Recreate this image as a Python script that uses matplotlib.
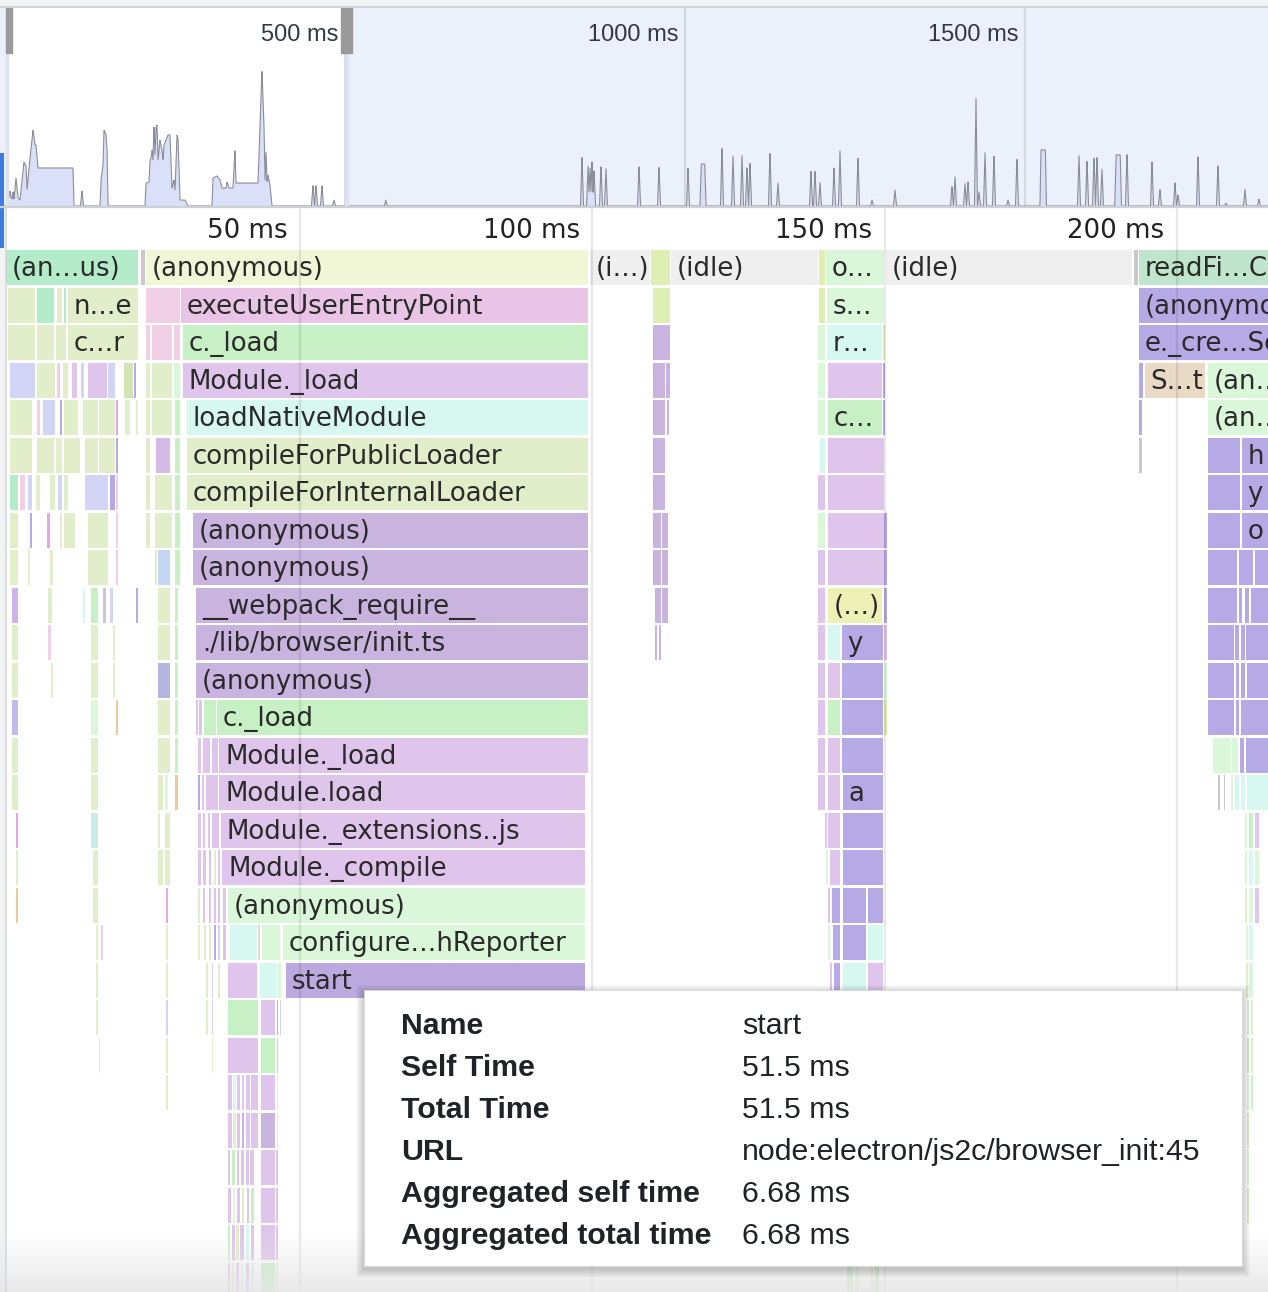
import numpy as np
import matplotlib.pyplot as plt
from matplotlib.patches import Rectangle

W, H = 1268, 1292

# ---- overview (CPU activity) data: time in ms, height in % ----
burst_t = [-8, 2.5, 2.9, 4.4, 5.9, 7.4, 8.8, 10.3, 11.8, 13.2, 16.2, 19.1, 22.1, 27.9, 30.9, 32.4,
           35.3, 38.2, 41.2, 44.1, 45.6, 48.5, 100.0, 101.5,
           139.7, 141.2, 144.1, 145.6, 148.5, 150.0, 151.5,
           205.9, 207.4, 211.8, 213.2, 214.7, 216.2, 217.6, 219.1, 220.6, 222.1, 223.5, 225.0,
           226.5, 227.9, 229.4, 230.9, 232.4, 233.8, 239.7, 242.6, 245.6, 248.5, 250.0, 252.9,
           254.4, 257.4, 264.7, 269.1,
           304.4, 305.9, 311.8, 316.2, 319.1, 325.0, 326.5, 329.4, 335.3, 338.2, 339.7, 372.1,
           375.0, 377.9, 380.9, 382.4, 383.8, 385.3, 386.8, 389.7, 392.6,
           1022.0, 1024.0, 1029.0, 1031.0, 1522.0, 1523.5, 1530.0, 1531.5,
           1632.0, 1634.0, 1640.0, 1642.0, 1860]
burst_h = [0, 0, 11.6, 8.1, 4.5, 7.6, 4.5, 3.5, 7.1, 3.5, 14.1, 4.5, 3.0, 22.2, 20.2, 8.1,
           19.2, 28.3, 38.4, 30.8, 30.8, 19.2, 19.2, 0,
           0, 13.1, 20.7, 38.4, 35.9, 28.3, 0,
           0, 11.6, 12.1, 23.2, 24.2, 28.3, 23.2, 40.9, 25.8, 39.4, 40.9, 23.2,
           28.3, 33.3, 30.8, 28.3, 23.2, 30.8, 35.9, 35.9, 9.1, 13.1, 8.1, 35.9,
           34.3, 3.0, 3.0, 0,
           0, 14.1, 15.2, 13.1, 9.1, 9.1, 12.1, 9.1, 9.1, 28.3, 11.6, 11.6,
           40.9, 68.7, 40.9, 13.1, 27.3, 12.1, 15.7, 10.6, 0,
           0, 21.2, 21.2, 0, 0, 28.3, 28.3, 0,
           0, 25.8, 25.8, 0, 0]
spike_t = [113.2, 452.9, 457.4, 466.2, 483.8, 560.0,
           848.5, 857.4, 860.3, 863.2, 866.2, 876.5, 883.8, 932.4, 961.8, 1004.4,
           1054.4, 1070.6, 1083.8, 1091.2, 1095.6, 1125.0, 1136.8, 1185.3, 1191.2, 1198.5,
           1219.1, 1227.9, 1254.4, 1275.0, 1308.8, 1392.6, 1397.1, 1411.8, 1416.2, 1427.9,
           1432.4, 1441.2, 1454.4, 1475.0, 1488.2, 1579.4, 1591.2, 1601.5, 1605.9, 1613.2,
           1650.0, 1686.8, 1698.5, 1720.6, 1725.0, 1754.4, 1783.8, 1795.6, 1823.5, 1844.1]
spike_h = [7.6, 10.6, 10.6, 10.6, 3.0, 3.0,
           25.3, 21.2, 19.2, 23.2, 18.2, 20.7, 19.2, 20.2, 20.2, 19.2,
           30.3, 25.3, 26.3, 20.2, 22.2, 27.8, 11.6, 17.7, 18.2, 12.1,
           19.2, 28.3, 25.3, 3.0, 8.1, 10.1, 15.2, 11.6, 12.6, 55.6,
           7.1, 27.3, 26.3, 3.0, 24.7, 26.3, 23.2, 25.3, 25.3, 19.2,
           27.3, 23.2, 8.6, 12.1, 5.6, 25.8, 21.2, 1.5, 8.6, 3.5]
overview_ticks = [500, 1000, 1500, 2000]
window_ms = [4.4, 500.0]

# ---- flame chart data: (row, start ms, end ms, colour, label) ----
flame_ticks = [50, 100, 150, 200]

palette = {
    'mint': '#b4ecc9', 'cream': '#f1f6d6', 'idle': '#efefef', 'grey': '#c9c9c9',
    'lime': '#dfeeb2', 'pink': '#e9c4e7', 'pinkl': '#f1d0e7', 'green': '#c7f1c4',
    'lav': '#dfc5eb', 'lav2': '#d6bbe8', 'cyan': '#d7f7f1', 'cyan2': '#cdeaea',
    'olive': '#e2edc9', 'olive2': '#d3e3b3', 'purple': '#c9b3df', 'purple2': '#cfb2e8',
    'lgreen': '#dbf7da', 'start': '#bca9df', 'yellow': '#eef1b5', 'blue': '#b6aae6',
    'sea': '#bfe6cd', 'beige': '#e9dac6', 'peri': '#d2d5f5', 'sky': '#c3d6f3',
    'violet': '#c4b8ee', 'violet2': '#b5b5e1', 'orange': '#f2c89a', 'magenta': '#e9a6e6',
}

main_blocks = [
    (0, -0.3, 22.3, 'mint', '(an…us)'), (0, 22.8, 23.5, 'grey', ''),
    (0, 23.7, 99.3, 'cream', '(anonymous)'),
    (1, 29.6, 99.3, 'pink', 'executeUserEntryPoint'),
    (2, 30.0, 99.3, 'green', 'c._load'),
    (3, 30.0, 99.3, 'lav', 'Module._load'),
    (4, 30.6, 99.3, 'cyan', 'loadNativeModule'),
    (5, 30.6, 99.3, 'olive', 'compileForPublicLoader'),
    (6, 30.6, 99.3, 'olive', 'compileForInternalLoader'),
    (7, 31.7, 99.3, 'purple', '(anonymous)'),
    (8, 31.7, 99.3, 'purple', '(anonymous)'),
    (9, 32.2, 99.3, 'purple', '__webpack_require__'),
    (10, 32.2, 99.3, 'purple', './lib/browser/init.ts'),
    (11, 32.2, 99.3, 'purple', '(anonymous)'),
    (12, 35.8, 99.3, 'green', 'c._load'),
    (13, 36.2, 99.3, 'lav', 'Module._load'),
    (14, 36.2, 98.8, 'lav', 'Module.load'),
    (15, 36.5, 98.8, 'lav', 'Module._extensions..js'),
    (16, 36.7, 98.8, 'lav', 'Module._compile'),
    (17, 37.7, 98.8, 'lgreen', '(anonymous)'),
    (18, 47.1, 98.8, 'lgreen', 'configure…hReporter'),
    (19, 47.6, 98.8, 'start', 'start'),
]

left_blocks = [
    (1, 0.1, 4.7, 'olive'), (1, 5.0, 7.9, 'mint'), (1, 8.4, 9.3, 'olive'), (1, 9.6, 10.0, 'mint'),
    (1, 10.3, 22.3, 'olive', 'n…e'),
    (2, 0.1, 4.7, 'olive'), (2, 5.0, 7.9, 'olive'), (2, 8.3, 10.0, 'olive'), (2, 10.3, 22.3, 'olive', 'c…r'),
    (3, 0.4, 4.7, 'peri'), (3, 5.0, 8.1, 'olive'), (3, 8.4, 8.9, 'pinkl'), (3, 9.5, 10.3, 'olive'),
    (3, 11.0, 11.9, 'lav'), (3, 12.5, 13.1, 'peri'), (3, 13.7, 17.0, 'lav'), (3, 17.2, 18.4, 'peri'),
    (3, 19.9, 21.4, 'olive2'), (3, 21.6, 21.9, 'blue'),
    (4, 0.4, 4.2, 'olive'), (4, 5.0, 5.5, 'pinkl'), (4, 6.0, 8.1, 'peri'), (4, 8.9, 9.3, 'blue'),
    (4, 9.6, 12.0, 'olive'), (4, 12.9, 15.4, 'olive'), (4, 15.6, 18.4, 'olive'), (4, 18.5, 18.9, 'magenta'),
    (4, 20.1, 20.9, 'olive'), (4, 21.9, 22.3, 'olive'),
    (5, 0.4, 4.2, 'olive'), (5, 5.0, 7.9, 'olive'), (5, 8.3, 9.3, 'olive'), (5, 9.6, 12.4, 'olive'),
    (5, 13.2, 15.4, 'olive'), (5, 15.6, 18.4, 'olive'), (5, 18.5, 18.9, 'blue'),
    (6, 0.4, 1.8, 'mint'), (6, 2.1, 3.0, 'pinkl'), (6, 3.5, 4.2, 'peri'), (6, 4.8, 5.5, 'olive'),
    (6, 7.2, 8.1, 'olive'), (6, 8.6, 9.3, 'peri'), (6, 9.6, 10.3, 'olive'), (6, 13.2, 17.2, 'peri'),
    (6, 17.5, 18.4, 'blue'), (6, 18.5, 18.9, 'pinkl'),
    (7, 0.4, 1.8, 'olive'), (7, 3.8, 4.2, 'blue'), (7, 6.7, 7.2, 'magenta'), (7, 8.9, 9.3, 'olive'),
    (7, 9.6, 11.5, 'olive'), (7, 13.7, 17.2, 'olive'), (7, 18.5, 18.9, 'pinkl'),
    (8, 0.4, 1.8, 'olive'), (8, 3.5, 3.8, 'olive'), (8, 7.2, 7.7, 'olive'), (8, 13.7, 17.2, 'olive'),
    (8, 18.5, 18.9, 'pinkl'),
    (9, 0.7, 1.8, 'purple2'), (9, 6.9, 7.6, 'olive'), (9, 12.9, 13.2, 'cyan'), (9, 14.3, 15.4, 'green'),
    (9, 16.3, 16.8, 'grey'), (9, 17.5, 18.0, 'peri'), (9, 21.9, 22.3, 'blue'),
    (10, 0.7, 1.8, 'olive'), (10, 6.9, 7.4, 'pinkl'), (10, 14.3, 15.4, 'olive'), (10, 18.0, 18.4, 'olive'),
    (11, 0.7, 1.8, 'olive'), (11, 7.4, 7.7, 'olive'), (11, 14.3, 15.4, 'olive'), (11, 18.0, 18.4, 'olive'),
    (12, 0.7, 1.8, 'violet'), (12, 14.3, 15.4, 'lgreen'), (12, 18.5, 18.9, 'orange'),
    (13, 0.7, 1.8, 'olive'), (13, 14.3, 15.4, 'olive'),
    (14, 0.7, 1.8, 'olive'), (14, 14.3, 15.4, 'olive'),
    (15, 1.4, 1.8, 'magenta'), (15, 14.3, 15.4, 'cyan2'),
    (16, 1.4, 1.8, 'olive'), (16, 14.6, 15.4, 'olive'),
    (17, 1.4, 1.8, 'orange'), (17, 14.6, 15.4, 'olive'),
    (18, 15.1, 15.4, 'olive'), (18, 16.0, 16.3, 'pinkl'),
    (19, 15.1, 15.4, 'olive'), (20, 15.1, 15.4, 'olive'), (21, 15.6, 15.8, 'olive'),
]

second_blocks = [
    (1, 23.7, 29.4, 'pinkl'),
    (2, 23.7, 24.3, 'pinkl'), (2, 24.7, 28.1, 'pinkl'), (2, 28.4, 29.5, 'pinkl'),
    (3, 23.7, 24.3, 'olive'), (3, 24.7, 28.1, 'olive'), (3, 28.4, 29.5, 'lgreen'),
    (4, 23.7, 24.3, 'olive'), (4, 24.7, 28.1, 'olive'), (4, 28.6, 29.5, 'green'),
    (5, 23.7, 24.3, 'olive'), (5, 25.4, 27.8, 'lav2'), (5, 28.6, 29.5, 'green'),
    (6, 23.7, 24.3, 'olive'), (6, 25.2, 28.1, 'olive'), (6, 28.6, 29.5, 'green'),
    (7, 23.7, 24.3, 'olive'), (7, 25.2, 28.1, 'olive'), (7, 28.6, 29.5, 'green'),
    (8, 25.2, 25.5, 'olive'), (8, 25.7, 27.8, 'sky'), (8, 28.6, 29.5, 'green'),
    (9, 25.7, 27.8, 'olive'), (9, 28.6, 29.1, 'green'),
    (10, 25.7, 27.8, 'olive'), (10, 28.6, 29.1, 'green'),
    (11, 25.7, 27.8, 'violet2'), (11, 28.6, 29.1, 'green'),
    (12, 25.7, 27.8, 'olive'), (12, 28.6, 29.1, 'green'),
    (13, 25.7, 27.8, 'olive'), (13, 28.6, 29.1, 'green'),
    (14, 25.7, 26.6, 'olive'), (14, 26.9, 27.4, 'lgreen'), (14, 28.6, 29.1, 'orange'),
    (15, 25.7, 26.0, 'olive'), (15, 26.9, 27.8, 'olive'),
    (16, 25.7, 26.6, 'olive'), (16, 26.9, 27.8, 'olive'),
    (17, 27.1, 27.4, 'magenta'), (18, 27.1, 27.4, 'olive'), (19, 27.1, 27.4, 'olive'),
    (20, 27.1, 27.4, 'peri'), (21, 27.1, 27.4, 'olive'), (22, 27.1, 27.4, 'olive'),
    (12, 32.2, 32.5, 'lav'), (12, 32.8, 33.2, 'lav'), (12, 33.6, 35.6, 'green'),
    (13, 32.6, 33.0, 'lav'), (13, 33.4, 34.6, 'lav'), (13, 35.0, 35.9, 'lav'),
    (14, 32.6, 32.9, 'blue'), (14, 33.2, 33.6, 'lav'), (14, 34.0, 35.9, 'lav'),
    (15, 32.6, 33.0, 'lav'), (15, 33.4, 33.8, 'lav'), (15, 34.2, 34.6, 'lav'), (15, 35.0, 36.2, 'lav'),
    (16, 32.6, 33.0, 'lav'), (16, 33.4, 34.0, 'lav'), (16, 34.4, 34.8, 'lav'), (16, 35.3, 35.6, 'olive'),
    (16, 36.0, 36.4, 'lav'),
    (17, 32.6, 32.9, 'olive'), (17, 33.4, 33.7, 'lav'), (17, 34.4, 34.7, 'lav'), (17, 35.3, 35.6, 'lav'),
    (17, 36.0, 36.4, 'lav'), (17, 36.8, 37.4, 'lav'),
    (18, 32.6, 32.9, 'olive'), (18, 33.6, 33.9, 'olive'), (18, 34.4, 34.7, 'olive'), (18, 35.3, 35.6, 'blue'),
    (18, 36.0, 36.3, 'peri'), (18, 36.8, 37.4, 'lav'),
    (18, 38.0, 42.6, 'cyan'), (18, 42.9, 43.2, 'beige'), (18, 43.5, 46.6, 'lgreen'),
    (19, 34.0, 34.3, 'olive'), (19, 34.9, 35.2, 'peri'), (19, 36.0, 36.3, 'olive'),
    (19, 37.7, 42.6, 'lav'), (19, 43.2, 46.1, 'cyan'), (19, 46.3, 46.7, 'lgreen'),
    (20, 34.0, 34.3, 'olive'), (20, 34.9, 35.2, 'peri'),
    (20, 37.7, 42.8, 'green'), (20, 43.3, 45.7, 'lav'), (20, 46.0, 46.3, 'blue'), (20, 46.5, 46.8, 'peri'),
    (21, 34.9, 35.2, 'olive'),
    (21, 37.7, 42.8, 'lav'), (21, 43.3, 45.7, 'green'), (21, 46.0, 46.3, 'lav'),
    (22, 37.7, 38.3, 'lav'), (22, 38.6, 39.0, 'cyan'), (22, 39.2, 39.8, 'lav'), (22, 40.0, 40.4, 'lav'),
    (22, 40.7, 41.4, 'lav'), (22, 41.7, 42.8, 'lav'), (22, 43.3, 45.7, 'lav'), (22, 46.0, 46.3, 'lgreen'),
    (23, 37.7, 38.3, 'lav'), (23, 38.6, 39.0, 'olive'), (23, 39.2, 39.8, 'lav'), (23, 40.0, 40.4, 'purple'),
    (23, 40.7, 41.4, 'lav'), (23, 41.7, 42.8, 'lav'), (23, 43.3, 45.7, 'purple'), (23, 46.0, 46.3, 'olive'),
    (24, 37.7, 38.1, 'lav'), (24, 38.4, 38.9, 'green'), (24, 39.2, 39.6, 'lav'), (24, 39.9, 40.5, 'lav'),
    (24, 40.8, 41.2, 'lav'), (24, 41.5, 42.2, 'lav'), (24, 43.3, 45.7, 'lav'), (24, 45.9, 46.2, 'lav'),
    (25, 37.7, 38.2, 'lav'), (25, 38.5, 38.8, 'lgreen'), (25, 39.2, 39.7, 'lav'), (25, 40.0, 40.5, 'olive'),
    (25, 40.9, 41.3, 'lav'), (25, 41.6, 42.2, 'green'), (25, 43.3, 45.7, 'lav'), (25, 45.9, 46.2, 'lav'),
    (26, 37.7, 38.0, 'green'), (26, 38.3, 38.8, 'lav'), (26, 39.1, 39.5, 'olive'), (26, 39.8, 40.4, 'lav'),
    (26, 40.8, 41.2, 'cyan'), (26, 41.6, 42.2, 'lav'), (26, 43.3, 45.7, 'lav'), (26, 45.9, 46.2, 'lav'),
    (27, 37.7, 38.0, 'lav'), (27, 38.3, 38.7, 'olive'), (27, 39.1, 39.5, 'lav'), (27, 39.9, 40.3, 'cyan'),
    (27, 40.7, 41.2, 'lav'), (27, 41.6, 42.2, 'lgreen'), (27, 43.3, 45.7, 'green'), (27, 45.9, 46.2, 'olive'),
]

mid_blocks = [
    (0, 99.6, 109.9, 'idle', '(i…)'), (0, 110.0, 113.3, 'lime'), (0, 113.5, 138.6, 'idle', '(idle)'),
    (0, 138.7, 139.8, 'lime'), (0, 140.0, 149.9, 'lgreen', 'o…'), (0, 150.2, 192.3, 'idle', '(idle)'),
    (0, 192.7, 193.3, 'grey'),
    (1, 110.4, 113.3, 'lime'), (1, 138.7, 139.8, 'lime'), (1, 140.1, 149.9, 'lgreen', 's…'),
    (2, 110.4, 113.3, 'purple'), (2, 138.6, 139.8, 'lgreen'), (2, 140.1, 149.6, 'cyan', 'r…'),
    (2, 149.7, 150.1, 'lime'),
    (3, 110.4, 112.4, 'purple'), (3, 112.6, 113.3, 'purple'), (3, 138.6, 139.8, 'lgreen'),
    (3, 140.3, 149.6, 'lav'), (3, 149.7, 150.1, 'blue'),
    (4, 110.4, 112.4, 'purple'), (4, 112.8, 113.1, 'purple'), (4, 138.6, 139.8, 'lgreen'),
    (4, 140.3, 149.6, 'green', 'c…'), (4, 149.7, 150.1, 'blue'),
    (5, 110.4, 112.4, 'purple'), (5, 138.9, 139.8, 'cyan'), (5, 140.3, 149.9, 'lav'),
    (6, 110.4, 112.4, 'purple'), (6, 138.6, 139.8, 'lav'), (6, 140.3, 149.9, 'lav'),
    (7, 110.4, 111.8, 'purple'), (7, 112.0, 112.9, 'purple'), (7, 138.6, 139.8, 'lgreen'),
    (7, 140.3, 149.9, 'lav'), (7, 149.9, 150.4, 'blue'),
    (8, 110.4, 111.8, 'purple'), (8, 112.0, 112.9, 'purple'), (8, 138.6, 139.8, 'lav'),
    (8, 140.3, 149.9, 'lav'), (8, 149.9, 150.4, 'blue'),
    (9, 110.7, 111.8, 'purple'), (9, 112.0, 112.9, 'purple'), (9, 138.6, 139.8, 'lav'),
    (9, 140.3, 149.6, 'yellow', '(…)'), (9, 149.9, 150.4, 'blue'),
    (10, 110.7, 111.1, 'purple'), (10, 111.4, 111.8, 'purple'), (10, 138.6, 139.8, 'lav'),
    (10, 140.3, 142.4, 'cyan'), (10, 142.7, 149.7, 'blue', 'y'), (10, 149.9, 150.4, 'lav'),
    (11, 138.6, 139.8, 'lav'), (11, 140.3, 142.4, 'lav'), (11, 142.7, 149.7, 'blue'), (11, 149.9, 150.4, 'lgreen'),
    (12, 138.6, 139.8, 'lav'), (12, 140.3, 142.4, 'green'), (12, 142.7, 149.7, 'blue'), (12, 149.9, 150.4, 'lime'),
    (13, 138.6, 139.8, 'lav'), (13, 140.3, 142.4, 'lav'), (13, 142.7, 149.7, 'blue'),
    (14, 138.6, 139.8, 'lav'), (14, 140.3, 142.4, 'lav'), (14, 142.9, 149.7, 'blue', 'a'),
    (15, 139.8, 140.1, 'lav'), (15, 140.3, 142.4, 'lav'), (15, 142.9, 149.7, 'blue'),
    (16, 140.0, 140.3, 'lgreen'), (16, 140.7, 142.4, 'lav'), (16, 142.9, 149.7, 'blue'),
    (17, 140.3, 140.6, 'lav'), (17, 141.0, 142.4, 'blue'), (17, 142.9, 146.8, 'blue'), (17, 147.2, 149.7, 'blue'),
    (18, 140.3, 140.6, 'lgreen'), (18, 141.2, 142.4, 'blue'), (18, 142.9, 146.8, 'blue'), (18, 147.2, 149.7, 'cyan'),
    (19, 140.6, 141.0, 'lav'), (19, 141.4, 142.4, 'blue'), (19, 142.9, 146.8, 'cyan'), (19, 147.2, 149.7, 'lav'),
    (27, 143.5, 144.6, 'green'), (27, 144.9, 145.6, 'lgreen'), (27, 147.6, 148.1, 'lime'), (27, 148.4, 149.0, 'green'),
]

right_blocks = [
    (0, 193.5, 216.5, 'sea', 'readFi…Cache'),
    (1, 193.5, 216.5, 'blue', '(anonymous)'),
    (2, 193.5, 216.5, 'blue', 'e._cre…Script'),
    (3, 193.5, 194.2, 'blue'), (3, 194.5, 204.8, 'beige', 'S…t'), (3, 205.3, 216.5, 'lgreen', '(an…)'),
    (4, 193.5, 194.0, 'blue'), (4, 205.3, 216.5, 'lgreen', '(an…)'),
    (5, 193.5, 194.0, 'grey'), (5, 205.3, 210.8, 'blue'), (5, 211.1, 216.5, 'blue', 'h'),
    (6, 205.3, 210.8, 'blue'), (6, 211.1, 216.5, 'blue', 'y'),
    (7, 205.3, 210.8, 'blue'), (7, 211.1, 216.5, 'blue', 'o'),
    (8, 205.3, 210.3, 'blue'), (8, 210.6, 213.1, 'blue'), (8, 213.4, 216.5, 'blue'),
    (9, 205.3, 210.3, 'blue'), (9, 210.6, 211.2, 'blue'), (9, 211.6, 212.3, 'blue'), (9, 212.6, 216.5, 'blue'),
    (10, 205.3, 209.8, 'blue'), (10, 210.0, 210.6, 'blue'), (10, 210.9, 211.6, 'blue'), (10, 211.9, 216.5, 'blue'),
    (11, 205.3, 209.8, 'blue'), (11, 210.1, 210.7, 'blue'), (11, 211.0, 211.7, 'blue'), (11, 212.0, 216.5, 'blue'),
    (12, 205.3, 209.8, 'blue'), (12, 210.1, 210.7, 'blue'), (12, 211.0, 216.5, 'blue'),
    (13, 206.2, 209.2, 'lgreen'), (13, 209.5, 210.4, 'lgreen'), (13, 210.8, 211.5, 'blue'), (13, 211.9, 216.5, 'blue'),
    (14, 207.1, 207.3, 'grey'), (14, 208.0, 208.2, 'grey'), (14, 209.3, 209.6, 'lgreen'), (14, 210.0, 210.6, 'cyan'),
    (14, 211.0, 211.6, 'cyan'), (14, 212.0, 216.5, 'cyan'),
    (15, 211.7, 212.0, 'lgreen'), (15, 212.4, 213.0, 'green'), (15, 213.4, 214.0, 'lav'),
    (16, 211.7, 212.0, 'lgreen'), (16, 212.4, 213.0, 'cyan'), (16, 213.4, 214.0, 'lgreen'),
    (17, 211.7, 212.0, 'olive'), (17, 212.4, 213.0, 'lgreen'), (17, 213.4, 214.0, 'lav'),
    (18, 211.9, 212.2, 'lgreen'), (18, 212.4, 213.0, 'cyan'),
    (19, 211.9, 212.2, 'olive'), (19, 212.4, 213.0, 'lgreen'),
    (20, 212.0, 212.3, 'lgreen'), (20, 212.6, 213.0, 'olive'),
    (21, 212.0, 212.3, 'green'), (21, 212.6, 213.0, 'olive'),
    (22, 212.0, 212.3, 'lgreen'), (22, 212.6, 213.0, 'green'),
    (23, 212.0, 212.3, 'olive'), (24, 212.0, 212.3, 'lgreen'), (25, 212.0, 212.3, 'olive'),
]

tooltip_keys = ['Name', 'Self Time', 'Total Time', 'URL', 'Aggregated self time', 'Aggregated total time']
tooltip_vals = ['start', '51.5 ms', '51.5 ms', 'node:electron/js2c/browser_init:45', '6.68 ms', '6.68 ms']

# ---- figure ----
fig = plt.figure(figsize=(W / 100, H / 100), dpi=100)
fig.patch.set_facecolor('white')

ov_top, ov_bot = 8, 206
ax_ov = fig.add_axes([0, 1 - ov_bot / H, 1, (ov_bot - ov_top) / H])
fl_top = 207
ax_fl = fig.add_axes([0, 0, 1, 1 - fl_top / H])

# overview
ov_x0 = (0 - 5) / 0.68
ov_x1 = (W - 5) / 0.68
ax_ov.set_xlim(ov_x0, ov_x1)
ax_ov.set_ylim(0, 100)
ax_ov.axis('off')
ax_ov.axvspan(ov_x0, ov_x1, color='#ebf0fa', zorder=0)
ax_ov.axvspan(window_ms[0], window_ms[1], color='white', zorder=0.5)

grid_t = np.linspace(ov_x0, ov_x1, 8000)
cpu = np.interp(grid_t, burst_t, burst_h)
for st, sh in zip(spike_t, spike_h):
    cpu = np.maximum(cpu, sh * np.clip(1 - np.abs(grid_t - st) / 2.2, 0, None))
ax_ov.fill_between(grid_t, 0, cpu, color='#d9e0f7', lw=0, zorder=2)
ax_ov.plot(grid_t, cpu, color='#8d8d99', lw=0.8, zorder=3)

for t in overview_ticks:
    ax_ov.axvline(t, color='#d3d7de', lw=1.5, zorder=1)
    ax_ov.annotate(f'{t} ms', xy=(t, 0.874), xycoords=('data', 'axes fraction'),
                   xytext=(-5, -1.5), textcoords='offset points', ha='right', va='center',
                   fontsize=17, family='Liberation Sans', color='#303942', zorder=5)

# window edges and handles
hw = 2.2 / 0.68
ax_ov.axvspan(window_ms[0] - hw, window_ms[0], ymax=0.77, color='#dbe3f3', zorder=4)
ax_ov.axvspan(window_ms[1], window_ms[1] + hw * 1.3, ymax=0.77, color='#dbe3f3', zorder=4)
ax_ov.axvspan(1.5, 10.3, ymin=0.773, color='#9a9a9a', zorder=6)
ax_ov.axvspan(494.0, 510.0, ymin=0.773, color='#9a9a9a', zorder=6)

# flame chart
fl_x0 = (0 - 7.7) / 5.846
fl_x1 = (W - 7.7) / 5.846
row_h = 37.5
ax_fl.set_xlim(fl_x0, fl_x1)
ax_fl.set_ylim((H - 250) / row_h, (fl_top - 250) / row_h)
ax_fl.axis('off')

bar_h = 35.0 / row_h
all_blocks = main_blocks + left_blocks + second_blocks + mid_blocks + right_blocks
for b in all_blocks:
    row, t0, t1, col = b[:4]
    ax_fl.barh(row + bar_h / 2, t1 - t0, left=t0, height=bar_h, color=palette[col],
               edgecolor='none', zorder=2)
    if len(b) > 4 and b[4]:
        ax_fl.annotate(b[4], xy=(t0, row + bar_h / 2), xytext=(4.2, -1.4),
                       textcoords='offset points', ha='left', va='center',
                       fontsize=18.7, family='DejaVu Sans', color='#2a2a2a',
                       zorder=4, annotation_clip=False)

for t in flame_ticks:
    ax_fl.axvline(t, color='black', alpha=0.09, lw=1.6, zorder=3)
    ax_fl.annotate(f'{t} ms', xy=(t, (229 - 250) / row_h), xytext=(-9, -1.4),
                   textcoords='offset points', ha='right', va='center',
                   fontsize=18.7, family='DejaVu Sans', color='#222222')

# overlay in pixel units for the surrounding chrome
ax_px = fig.add_axes([0, 0, 1, 1], zorder=10)
ax_px.set_xlim(0, W)
ax_px.set_ylim(H, 0)
ax_px.axis('off')
ax_px.add_patch(Rectangle((0, 0), W, 7, color='#f1f3f4', lw=0))
ax_px.plot([0, W], [7.3, 7.3], color='#cdd0d4', lw=1.3)
ax_px.plot([0, W], [206.5, 206.5], color='#cdd0d4', lw=1.6)
ax_px.add_patch(Rectangle((0, 207), 5.5, H - 207, color='#f1f3f4', lw=0))
ax_px.plot([5.8, 5.8], [207, H], color='#d5d7db', lw=1.2)
ax_px.add_patch(Rectangle((0, 153), 3.5, 95, color='#3b7ce2', lw=0))

# bottom fade
grad = np.zeros((60, 2, 4))
grad[..., :3] = 0.9
grad[..., 3] = np.linspace(0, 0.85, 60)[:, None]
ax_px.imshow(grad, extent=(0, W, H, H - 60), aspect='auto', zorder=1, interpolation='bilinear')

# tooltip with soft shadow
tx, ty, tw, th = 364, 990, 878, 276
for i in range(1, 9):
    ax_px.add_patch(Rectangle((tx - i, ty - i + 3), tw + 2 * i, th + 2 * i,
                              color='black', alpha=0.022, lw=0, zorder=2))
ax_px.add_patch(Rectangle((tx, ty), tw, th, facecolor='white', edgecolor='#d8d8d8', lw=0.6, zorder=3))
for i, (k, v) in enumerate(zip(tooltip_keys, tooltip_vals)):
    yy = 1025.5 + i * 42
    ax_px.text(401, yy, k, ha='left', va='center', fontsize=21.8, fontweight='bold',
               family='Liberation Sans', color='#1f2328', zorder=4)
    ax_px.text(742, yy, v, ha='left', va='center', fontsize=21.8,
               family='Liberation Sans', color='#1f2328', zorder=4)

fig.savefig('out.png', dpi=100)
